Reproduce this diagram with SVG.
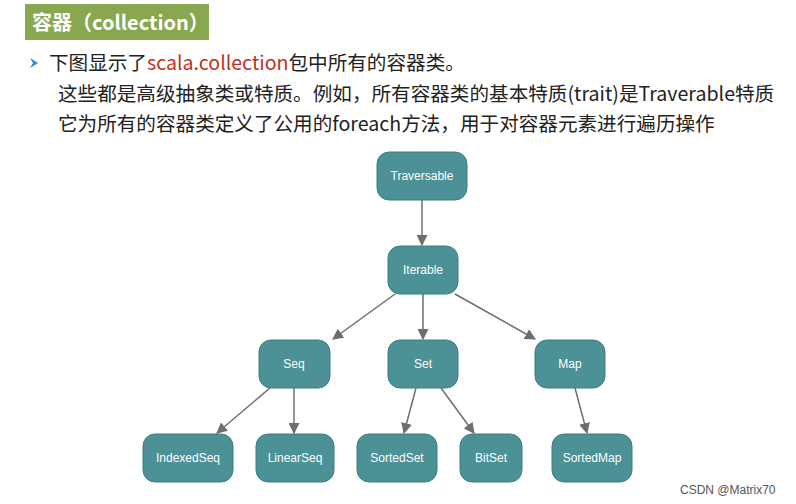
<svg xmlns="http://www.w3.org/2000/svg" width="796" height="504" viewBox="0 0 796 504">
<style>
.n rect{fill:#4b9196;stroke:#3d7f84;stroke-width:1}
.n text{fill:#fff;font-family:"Liberation Sans",Arial,sans-serif;font-size:12px;text-anchor:middle}
.t{font-family:"Noto Sans CJK SC","Liberation Sans",sans-serif;font-size:19.6px;fill:#222}
.e line{stroke:#6e6e6e;stroke-width:1.5;marker-end:url(#a)}
</style>
<defs><marker id="a" viewBox="0 0 10 10" refX="9" refY="5" markerWidth="11" markerHeight="11" orient="auto" markerUnits="userSpaceOnUse"><path d="M0,0L10,5L0,10z" fill="#6e6e6e"/></marker></defs>
<rect width="796" height="504" fill="#fff"/>
<rect x="25" y="4" width="184" height="36" fill="#87a84e"/>
<text x="32" y="30" font-family="Noto Sans CJK SC,sans-serif" font-size="20" font-weight="bold" fill="#fff">容器（collection）</text>
<path d="M30,58L38,63L30,68L33,63z" fill="#2a8ad0"/>
<text class="t" x="49" y="70">下图显示了<tspan fill="#c0311c">scala.collection</tspan>包中所有的容器类。</text>
<text class="t" x="58" y="101">这些都是高级抽象类或特质。例如，所有容器类的基本特质(trait)是Traverable特质</text>
<text class="t" x="58" y="131">它为所有的容器类定义了公用的foreach方法，用于对容器元素进行遍历操作</text>
<g class="e">
<line x1="422" y1="200" x2="422" y2="245"/>
<line x1="395" y1="294" x2="333" y2="339"/>
<line x1="423" y1="294" x2="423" y2="339"/>
<line x1="455" y1="294" x2="535" y2="339"/>
<line x1="270" y1="388" x2="217" y2="433"/>
<line x1="294" y1="388" x2="294" y2="433"/>
<line x1="416" y1="388" x2="404" y2="433"/>
<line x1="441" y1="388" x2="474" y2="433"/>
<line x1="575" y1="388" x2="587" y2="433"/>
</g>
<g id="traversable" class="n"><rect x="377" y="152" width="90" height="48" rx="12"/><text x="422" y="180">Traversable</text></g>
<g id="iterable" class="n"><rect x="388" y="246" width="70" height="48" rx="12"/><text x="423" y="274">Iterable</text></g>
<g id="seq" class="n"><rect x="259" y="340" width="71" height="48" rx="12"/><text x="294" y="368">Seq</text></g>
<g id="set" class="n"><rect x="388" y="340" width="70" height="48" rx="12"/><text x="423" y="368">Set</text></g>
<g id="map" class="n"><rect x="535" y="340" width="70" height="48" rx="12"/><text x="570" y="368">Map</text></g>
<g id="indexedseq" class="n"><rect x="143" y="434" width="90" height="48" rx="12"/><text x="188" y="462">IndexedSeq</text></g>
<g id="linearseq" class="n"><rect x="256" y="434" width="78" height="48" rx="12"/><text x="295" y="462">LinearSeq</text></g>
<g id="sortedset" class="n"><rect x="357" y="434" width="80" height="48" rx="12"/><text x="397" y="462">SortedSet</text></g>
<g id="bitset" class="n"><rect x="460" y="434" width="62" height="48" rx="12"/><text x="491" y="462">BitSet</text></g>
<g id="sortedmap" class="n"><rect x="552" y="434" width="80" height="48" rx="12"/><text x="592" y="462">SortedMap</text></g>
<text x="680" y="494" font-family="Liberation Sans,sans-serif" font-size="12" fill="#555">CSDN @Matrix70</text>
</svg>
